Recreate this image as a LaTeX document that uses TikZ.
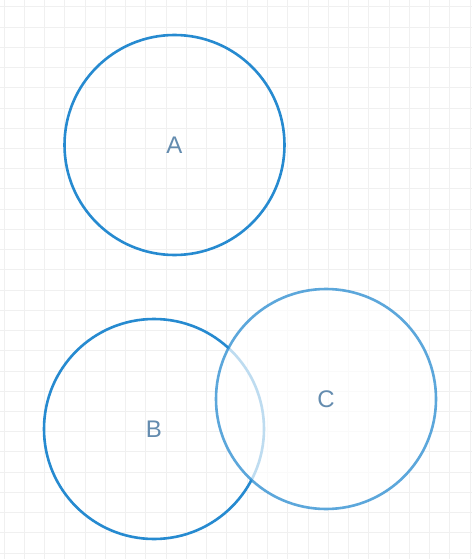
\documentclass[tikz,border=0pt]{standalone}
\usepackage{fontspec}
\setmainfont{Liberation Sans}
\definecolor{ringblue}{RGB}{38,138,208}
\definecolor{labelblue}{RGB}{100,140,175}
\definecolor{gridgray}{RGB}{240,240,240}
\tikzset{
  ring/.style={circle, draw=ringblue, line width=2.6pt, minimum size=220pt, inner sep=0pt,
    font=\fontsize{24}{26}\selectfont, text=labelblue},
  ghost/.style={ring, fill=white, fill opacity=0.7, draw opacity=0.75, text opacity=1}
}
\begin{document}
\begin{tikzpicture}[x=1pt, y=-1pt]
  \useasboundingbox (0,0) rectangle (474,559);
  \fill[white] (0,0) rectangle (474,559);
  % background grid
  \foreach \i in {0,...,23}
    \draw[gridgray, line width=0.8pt] (4+20.26*\i,0) -- (4+20.26*\i,559);
  \foreach \j in {0,...,27}
    \draw[gridgray, line width=0.8pt] (0,6.8+20.23*\j) -- (472,6.8+20.23*\j);

  \node[ring] (a) at (174.5,145) {\raisebox{-3pt}{A}};
  \node[ring] (b) at (154,429) {\raisebox{-3pt}{B}};
  \node[ghost] (c) at (326,399) {\raisebox{-2pt}{C}};
\end{tikzpicture}
\end{document}
